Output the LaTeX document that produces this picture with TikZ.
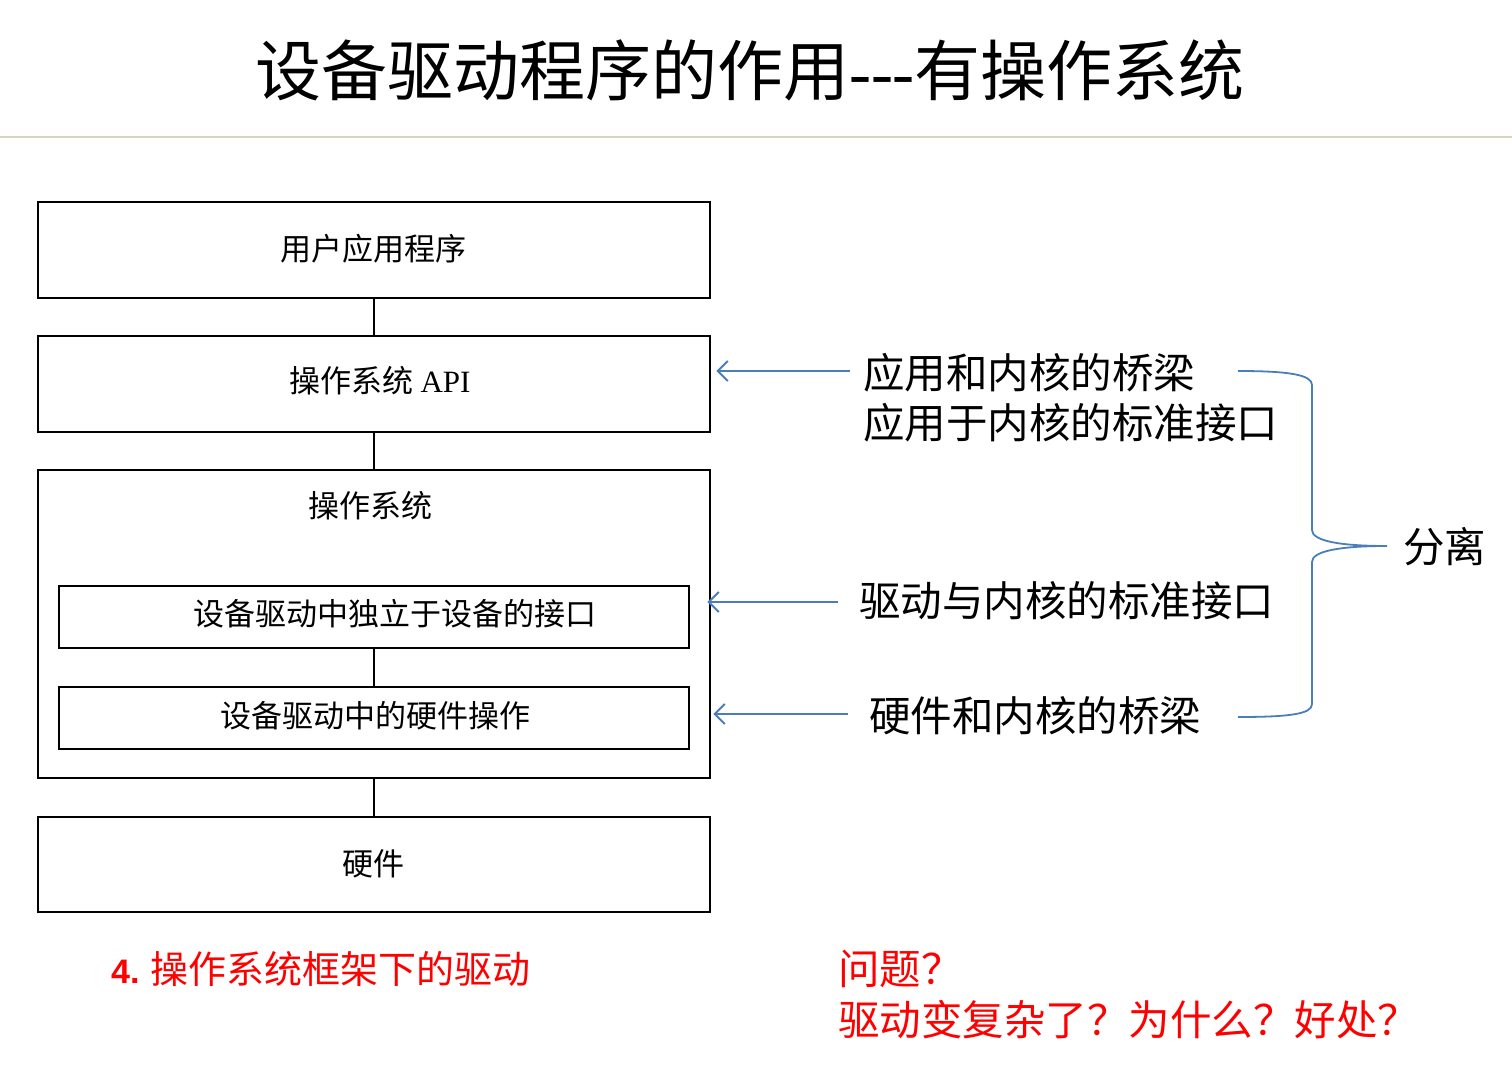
\documentclass[tikz,border=0pt]{standalone}
\usepackage{fontspec}
\setmainfont{Liberation Serif}
\newfontfamily\cjk{Noto Sans CJK SC}
\newfontfamily\lsans{Liberation Sans}
\usetikzlibrary{arrows.meta}
\definecolor{sepline}{RGB}{216,214,192}
\definecolor{arrowblue}{RGB}{74,126,187}
\definecolor{pured}{RGB}{255,0,0}
\begin{document}
\begin{tikzpicture}[x=1pt,y=-1pt,
  box/.style={draw=black, line width=2.4pt, minimum width=672pt, minimum height=96pt, inner sep=0pt, anchor=north west},
  innerbox/.style={draw=black, line width=2.4pt, minimum width=630pt, minimum height=62pt, inner sep=0pt, anchor=north west},
  boxtext/.style={font=\cjk\fontsize{31}{36}\selectfont, inner sep=0pt},
  sidetext/.style={font=\cjk\fontsize{41.5}{48}\selectfont, inner sep=0pt, anchor=west},
  redtext/.style={font=\cjk\fontsize{38}{44}\selectfont, text=pured, inner sep=0pt, anchor=west},
  link/.style={draw=black, line width=2.4pt},
  pointer/.style={draw=arrowblue, line width=1.8pt, -{Straight Barb[length=10pt,width=20pt,line width=2pt]}},
  bracepath/.style={draw=arrowblue, line width=1.8pt}
]
\useasboundingbox (0,0) rectangle (1512,1067);

% title
\node[inner sep=0pt, font=\cjk\fontsize{66}{72}\selectfont] (title) at (750,70)
  {设备驱动程序的作用{\rmfamily -{}-{}-}有操作系统};
\draw[sepline, line width=2.2pt] (0,137) -- (1512,137);

% boxes
\node[box] (app) at (37,201) {};
\node[boxtext] (apptext) at (373,249) {用户应用程序};
\node[box] (api) at (37,335) {};
\node[boxtext] (apitext) at (380,381) {操作系统 {\rmfamily\fontsize{31}{36}\selectfont API}};
\node[box, minimum height=308pt] (os) at (37,469) {};
\node[boxtext] (ostext) at (370,506) {操作系统};
\node[innerbox] (ifc) at (58,585) {};
\node[boxtext] (ifctext) at (395,614) {设备驱动中独立于设备的接口};
\node[innerbox] (hwop) at (58,686) {};
\node[boxtext] (hwoptext) at (375,716) {设备驱动中的硬件操作};
\node[box, minimum height=95pt] (hw) at (37,816) {};
\node[boxtext] (hwtext) at (373,864) {硬件};

% connectors
\draw[link] (app.south) -- (api.north);
\draw[link] (api.south) -- (os.north);
\draw[link] (ifc.south) -- (hwop.north);
\draw[link] (os.south) -- (hw.north);

% side texts
\node[sidetext] (t1) at (863,373) {应用和内核的桥梁};
\node[sidetext] (t2) at (863,423) {应用于内核的标准接口};
\node[sidetext] (t3) at (859,601) {驱动与内核的标准接口};
\node[sidetext] (t4) at (869,716) {硬件和内核的桥梁};
\node[sidetext] (sep) at (1403,547) {分离};

% pointers
\draw[pointer, shorten <=13pt, shorten >=5pt] (t1.west) ++(0,-2) coordinate (p1) (p1) -- (p1 -| api.east);
\draw[pointer, shorten <=21pt, shorten >=-4pt] (t3.west) ++(0,1) coordinate (p3) (p3) -- (p3 -| os.east);
\draw[pointer, shorten <=21pt, shorten >=2pt] (t4.west) ++(0,-2) coordinate (p4) (p4) -- (p4 -| os.east);

% brace
\coordinate (bt) at (1238,371);
\coordinate (bm) at (1387,546);
\coordinate (bb) at (1238,717);
\draw[bracepath] (bt) .. controls (1290,371) and (1312,375) .. (1312,385)
  -- (1312,530) .. controls (1312,541) and (1340,546) .. (bm)
  .. controls (1340,546) and (1312,551) .. (1312,562)
  -- (1312,704) .. controls (1312,714) and (1290,717) .. (bb);

% bottom texts
\node[redtext] (cap) at (111,969) {{\lsans\bfseries\fontsize{34}{40}\selectfont 4.} 操作系统框架下的驱动};
\node[redtext, font=\cjk\fontsize{41.5}{47}\selectfont] (q1) at (838,969) {问题？};
\node[redtext, font=\cjk\fontsize{41.5}{47}\selectfont] (q2) at (838,1020) {驱动变复杂了？为什么？好处？};
\end{tikzpicture}
\end{document}
